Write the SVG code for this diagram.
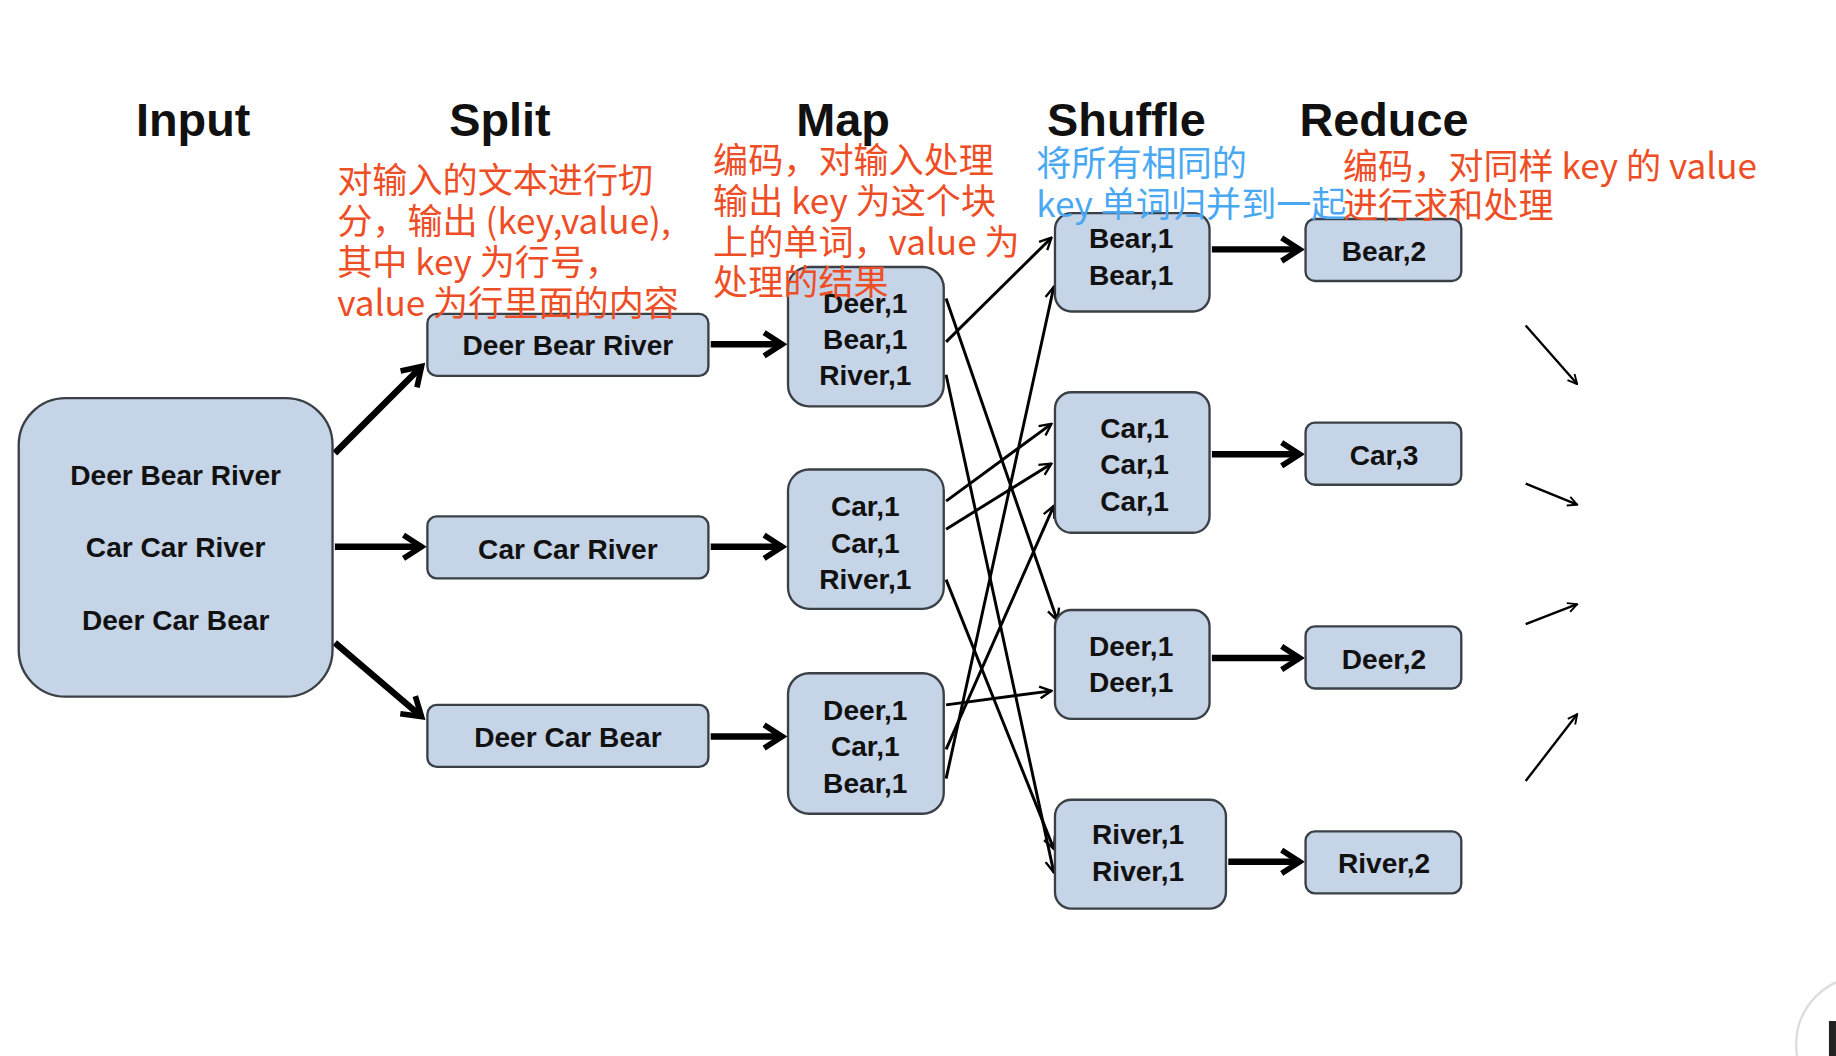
<svg xmlns="http://www.w3.org/2000/svg" width="1836" height="1056" viewBox="0 0 1836 1056">
<style>
.b{fill:#c5d4e6;stroke:#3b4047;stroke-width:2}
.t{font-family:"Liberation Sans",Arial,sans-serif;font-weight:bold;font-size:24px;fill:#111;text-anchor:middle}
.h{font-family:"Liberation Sans",Arial,sans-serif;font-weight:bold;font-size:40px;fill:#111;text-anchor:middle}
.r{font-family:"Noto Sans CJK SC","Liberation Sans",sans-serif;font-size:30px;fill:#ee4e26}
.bl{fill:#4aa8f2}
.k{stroke:#000;stroke-width:5.5;fill:none;marker-end:url(#mk)}
.n{stroke:#000;stroke-width:2.5;fill:none;marker-end:url(#mn)}
.s{stroke:#000;stroke-width:2;fill:none;marker-end:url(#mn)}
</style>
<defs>
<marker id="mk" viewBox="0 0 10 10" refX="8" refY="5" markerWidth="4" markerHeight="5" orient="auto" markerUnits="strokeWidth"><path d="M1,0.5 L8,5 L1,9.5" fill="none" stroke="#000" stroke-width="2.2"/></marker>
<marker id="mn" viewBox="0 0 10 10" refX="9" refY="5" markerWidth="5" markerHeight="5" orient="auto" markerUnits="strokeWidth"><path d="M1,1 L9,5 L1,9" fill="none" stroke="#000" stroke-width="1.6"/></marker>
</defs>
<rect width="1836" height="1056" fill="#fff"/>
<g transform="scale(1.1709)">
<g id="titles">
<text class="h" x="165" y="116">Input</text>
<text class="h" x="427" y="116">Split</text>
<text class="h" x="720" y="116">Map</text>
<text class="h" x="962" y="116">Shuffle</text>
<text class="h" x="1182" y="116">Reduce</text>
</g>
<g id="connectors">
<line class="k" x1="286" y1="387" x2="360" y2="313"/>
<line class="k" x1="286" y1="467" x2="360" y2="467"/>
<line class="k" x1="286" y1="549" x2="360" y2="612"/>
<line class="k" x1="607" y1="294" x2="668" y2="294"/>
<line class="k" x1="607" y1="467" x2="668" y2="467"/>
<line class="k" x1="607" y1="629" x2="668" y2="629"/>
<line class="k" x1="1035" y1="213" x2="1110" y2="213"/>
<line class="k" x1="1035" y1="388" x2="1110" y2="388"/>
<line class="k" x1="1035" y1="562" x2="1110" y2="562"/>
<line class="k" x1="1049" y1="736" x2="1110" y2="736"/>
<line class="n" x1="808" y1="292" x2="898" y2="203"/>
<line class="n" x1="808" y1="255" x2="903" y2="530"/>
<line class="n" x1="808" y1="320" x2="900" y2="745"/>
<line class="n" x1="808" y1="428" x2="898" y2="362"/>
<line class="n" x1="808" y1="452" x2="898" y2="396"/>
<line class="n" x1="808" y1="495" x2="900" y2="725"/>
<line class="n" x1="808" y1="602" x2="898" y2="590"/>
<line class="n" x1="808" y1="640" x2="900" y2="432"/>
<line class="n" x1="808" y1="665" x2="900" y2="245"/>
<line class="s" x1="1303" y1="278" x2="1347" y2="328"/>
<line class="s" x1="1303" y1="413" x2="1347" y2="431"/>
<line class="s" x1="1303" y1="533" x2="1347" y2="516"/>
<line class="s" x1="1303" y1="667" x2="1347" y2="610"/>
</g>
<g id="input"><rect class="b" x="16" y="340" width="268" height="255" rx="40"/>
<text class="t" x="150" y="414">Deer Bear River</text><text class="t" x="150" y="476">Car Car River</text><text class="t" x="150" y="538">Deer Car Bear</text></g>
<g id="split1"><rect class="b" x="365" y="268" width="240" height="53" rx="8"/><text class="t" x="485" y="303">Deer Bear River</text></g>
<g id="split2"><rect class="b" x="365" y="441" width="240" height="53" rx="8"/><text class="t" x="485" y="477">Car Car River</text></g>
<g id="split3"><rect class="b" x="365" y="602" width="240" height="53" rx="8"/><text class="t" x="485" y="638">Deer Car Bear</text></g>
<g id="map1"><rect class="b" x="673" y="228" width="133" height="119" rx="18"/><text class="t" x="739" y="267">Deer,1</text><text class="t" x="739" y="298">Bear,1</text><text class="t" x="739" y="329">River,1</text></g>
<g id="map2"><rect class="b" x="673" y="401" width="133" height="119" rx="18"/><text class="t" x="739" y="441">Car,1</text><text class="t" x="739" y="472">Car,1</text><text class="t" x="739" y="503">River,1</text></g>
<g id="map3"><rect class="b" x="673" y="575" width="133" height="120" rx="18"/><text class="t" x="739" y="615">Deer,1</text><text class="t" x="739" y="646">Car,1</text><text class="t" x="739" y="677">Bear,1</text></g>
<g id="sh1"><rect class="b" x="901" y="182" width="132" height="84" rx="14"/><text class="t" x="966" y="212">Bear,1</text><text class="t" x="966" y="243">Bear,1</text></g>
<g id="sh2"><rect class="b" x="901" y="335" width="132" height="120" rx="14"/><text class="t" x="969" y="374">Car,1</text><text class="t" x="969" y="405">Car,1</text><text class="t" x="969" y="436">Car,1</text></g>
<g id="sh3"><rect class="b" x="901" y="521" width="132" height="93" rx="14"/><text class="t" x="966" y="560">Deer,1</text><text class="t" x="966" y="591">Deer,1</text></g>
<g id="sh4"><rect class="b" x="901" y="683" width="146" height="93" rx="14"/><text class="t" x="972" y="721">River,1</text><text class="t" x="972" y="752">River,1</text></g>
<g id="re1"><rect class="b" x="1115" y="187" width="133" height="53" rx="8"/><text class="t" x="1182" y="223">Bear,2</text></g>
<g id="re2"><rect class="b" x="1115" y="361" width="133" height="53" rx="8"/><text class="t" x="1182" y="397">Car,3</text></g>
<g id="re3"><rect class="b" x="1115" y="535" width="133" height="53" rx="8"/><text class="t" x="1182" y="571">Deer,2</text></g>
<g id="re4"><rect class="b" x="1115" y="710" width="133" height="53" rx="8"/><text class="t" x="1182" y="746">River,2</text></g>
<g id="notes">
<text class="r" x="288" y="165">对输入的文本进行切</text>
<text class="r" x="288" y="200">分，输出 (key,value),</text>
<text class="r" x="288" y="235">其中 key 为行号，</text>
<text class="r" x="288" y="270">value 为行里面的内容</text>
<text class="r" x="609" y="148">编码，对输入处理</text>
<text class="r" x="609" y="183">输出 key 为这个块</text>
<text class="r" x="609" y="218">上的单词，value 为</text>
<text class="r" x="609" y="252">处理的结果</text>
<text class="r bl" x="885" y="150">将所有相同的</text>
<text class="r bl" x="885" y="185">key 单词归并到一起</text>
<text class="r" x="1147" y="153">编码，对同样 key 的 value</text>
<text class="r" x="1147" y="186">进行求和处理</text>
</g>
<circle cx="1592" cy="892" r="58" fill="#fff" stroke="#ddd" stroke-width="2"/>
<rect x="1562" y="872" width="6" height="30" fill="#222"/>
</g>
</svg>
